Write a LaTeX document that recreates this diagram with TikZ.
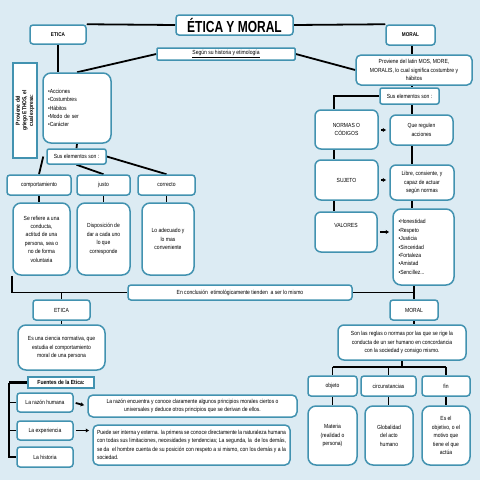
\documentclass[tikz,border=0pt]{standalone}
\usepackage{fontspec}
\usepackage{graphicx}
\setmainfont{Liberation Sans}[FakeStretch=0.85]
\newfontfamily\titlefont{Liberation Sans}[FakeStretch=0.75]
\usetikzlibrary{arrows.meta,calc}
\definecolor{bgc}{RGB}{220,235,243}
\definecolor{bc}{RGB}{66,146,176}
\newcommand\fs{\fontsize{5.9}{8.4}\selectfont}
\pgfdeclarelayer{back}
\pgfdeclarelayer{lines}
\pgfsetlayers{back,lines,main}
\begin{document}
\begin{tikzpicture}[x=1pt,y=-1pt,
  box/.style={draw=bc,fill=white,line width=1.5pt,rounded corners=3pt,inner sep=1pt,align=center,font=\fs},
  conn/.style={line width=1.8pt,black},
  arr/.style={conn,-{Latex[length=3.5pt,width=4.5pt]},shorten <=2pt,shorten >=3pt}]
\begin{pgfonlayer}{back}
\fill[bgc] (0,0) rectangle (480,480);
\end{pgfonlayer}
\useasboundingbox (0,0) rectangle (480,480);

% top
\node[box,minimum width=117,minimum height=20,font=\titlefont\bfseries\fontsize{16}{17}\selectfont] (title) at (234.5,25) {ÉTICA Y MORAL};
\node[box,minimum width=56,minimum height=19,font=\bfseries\fontsize{5.5}{6}\selectfont] (eticaT) at (58,34.5) {ETICA};
\node[box,minimum width=49,minimum height=20,font=\bfseries\fontsize{5.5}{6}\selectfont] (moralT) at (410.5,35) {MORAL};
\node[box,rounded corners=1pt,minimum width=138,minimum height=12] (segun) at (226,54) {\underline{Según su historia y etimología}};

% left: ETICA
\node[box,rounded corners=8pt,minimum width=68,minimum height=70,text width=58,align=left] (acciones) at (77,108) {•Acciones\\•Costumbres\\•Hábitos\\•Modo de ser\\•Carácter};
\node[box,rounded corners=0pt,rotate=90,minimum width=95,minimum height=24,font=\bfseries\fontsize{5.8}{6.6}\selectfont] (proviene) at (25,110.5) {Proviene del\\griego ETHOS, el\\cual expresa:};
\node[box,rounded corners=2pt,minimum width=59,minimum height=15] (susE) at (76.5,156.5) {Sus elementos son :};
\node[box,minimum width=64,minimum height=20] (comp) at (39,185) {comportamiento};
\node[box,minimum width=53,minimum height=20] (justo) at (103.5,185) {justo};
\node[box,minimum width=57,minimum height=20] (correcto) at (166.5,185) {correcto};
\node[box,rounded corners=8pt,minimum width=57,minimum height=72] (compD) at (41.5,239) {Se refiere a una\\conducta,\\actitud de una\\persona, sea o\\no de forma\\voluntaria};
\node[box,rounded corners=8pt,minimum width=53,minimum height=72] (justoD) at (103.5,239) {Disposición de\\dar a cada uno\\lo que\\corresponde};
\node[box,rounded corners=8pt,minimum width=52,minimum height=72] (corrD) at (168,239) {Lo adecuado y\\lo mas\\conveniente};

% conclusion
\node[box,minimum width=224,minimum height=15] (concl) at (240,292.5) {En conclusión\ \ etimológicamente tienden\ \ a ser lo mismo};
\node[box,minimum width=57,minimum height=20] (etica2) at (61.5,310) {ETICA};
\node[box,minimum width=48,minimum height=20] (moral2) at (414,310) {MORAL};
\node[box,rounded corners=8pt,minimum width=87,minimum height=45] (esuna) at (61.5,347.5) {Es una ciencia normativa, que\\estudia el comportamiento\\moral de una persona};

% fuentes
\node[box,rounded corners=0pt,minimum width=66,minimum height=11,font=\bfseries\fs] (fuentes) at (61,382.5) {Fuentes de la Etica:};
\node[box,minimum width=56,minimum height=19] (razon) at (45,402.5) {La razón humana};
\node[box,minimum width=56,minimum height=19] (exper) at (45,430.5) {La experiencia};
\node[box,minimum width=56,minimum height=20] (hist) at (45,457) {La historia};
\node[box,rounded corners=5pt,minimum width=209,minimum height=22] (razonD) at (192.5,406) {La razón encuentra y conoce claramente algunos principios morales ciertos o\\universales y deduce otros principios que se derivan de ellos.};
\node[box,rounded corners=5pt,minimum width=197,minimum height=40,text width=189,align=justify] (experD) at (191.5,445) {Puede ser interna y externa. la primera se conoce directamente la naturaleza humana con todas sus limitaciones, necesidades y tendencias; La segunda, la\ \ de los demás, se da\ \ el hombre cuenta de su posición con respeto a si mismo, con los demás y a la sociedad.};

% right: MORAL
\node[box,rounded corners=5pt,minimum width=116,minimum height=30] (moralE) at (414,70) {Proviene del latin MOS, MORE,\\MORALIS, lo cual significa costumbre y\\hábitos};
\node[box,rounded corners=2pt,minimum width=59,minimum height=16] (susR) at (409.5,96) {Sus elementos son :};
\node[box,rounded corners=6pt,minimum width=63,minimum height=39] (normas) at (346.5,129.5) {NORMAS O\\CÓDIGOS};
\node[box,rounded corners=6pt,minimum width=63,minimum height=30] (regulen) at (421.5,130) {Que regulen\\acciones};
\node[box,rounded corners=6pt,minimum width=63,minimum height=40] (sujeto) at (346.5,180) {SUJETO};
\node[box,rounded corners=6pt,minimum width=64,minimum height=35] (libre) at (422,182.5) {Libre, consiente, y\\capaz de actuar\\según normas};
\node[box,rounded corners=6pt,minimum width=62,minimum height=40] (valores) at (346,232) {VALORES\\[5pt]};
\node[box,rounded corners=8pt,minimum width=61,minimum height=76,text width=50,align=left] (valD) at (423.5,247) {•Honestidad\\•Respeto\\•Justicia\\•Sinceridad\\•Fortaleza\\•Amistad\\•Sencillez...};
\node[box,rounded corners=6pt,minimum width=128,minimum height=35] (sonlas) at (402,342.5) {Son las reglas o normas por las que se rige la\\conducta de un ser humano en concordancia\\con la sociedad y consigo mismo.};
\node[box,minimum width=49,minimum height=20] (objeto) at (332.5,386) {objeto};
\node[box,minimum width=55,minimum height=20] (circ) at (388.5,386) {circunstancias};
\node[box,minimum width=48,minimum height=20] (fin) at (446,386) {fin};
\node[box,rounded corners=8pt,minimum width=49,minimum height=59] (objD) at (332.5,435.5) {Materia\\(realidad o\\persona)};
\node[box,rounded corners=8pt,minimum width=48,minimum height=59] (circD) at (389,435.5) {Globalidad\\del acto\\humano};
\node[box,rounded corners=8pt,minimum width=48,minimum height=59] (finD) at (446,435.5) {Es el\\objetivo, o el\\motivo que\\tiene el que\\actúa};

\coordinate (rx) at (412,0);
\coordinate (lx) at (334,0);
\coordinate (fx) at (9,382.5);
\coordinate (bj) at ($(sonlas.south)+(0,6)$);

\begin{pgfonlayer}{lines}
\draw[conn] (title.west) -- (eticaT.north east);
\draw[conn] (title.east) -- (moralT.north west);
\draw[conn] (eticaT.south) -- (eticaT.south |- acciones.north);
\draw[conn] (segun.west) -- (acciones.north);
\draw[conn] (segun.east) -- (moralE.west);
\draw[conn] (acciones.south) -- (susE.north);
\draw[conn] ([xshift=-3pt]susE.west) -- (comp.north);
\draw[conn] (susE.south) -- (justo.north);
\draw[conn] (susE.east) -- (correcto.north);
\draw[conn] (comp.south) -- (comp.south |- compD.north);
\draw[conn] (justo.south) -- (justoD.north);
\draw[conn] (correcto.south) -- (correcto.south |- corrD.north);
\draw[conn] (compD.south west) |- (concl.west);
\draw[conn] (concl.east) -- (concl.east -| moral2.north);
\draw[conn] (moral2.north) -- (moral2.north |- valD.south);
\draw[conn] (etica2.north) -- (etica2.north |- concl.west);
\draw[conn] (etica2.south) -- (esuna.north);
\draw[line width=3.2pt] (fuentes.west) -- (fx);
\draw[conn] (fx) |- (hist.west);
\draw[conn] (razon.west) -- (razon.west -| fx);
\draw[conn] (exper.west) -- (exper.west -| fx);
\draw[arr] (razon.east) -- (razonD.west);
\draw[arr] (exper.east) -- (exper.east -| experD.west);
\draw[conn] (moralT.south -| rx) -- (moralE.north -| rx);
\draw[conn] (moralE.south -| rx) -- (susR.north -| rx);
\draw[conn] (susR.south -| rx) -- (regulen.north -| rx);
\draw[conn] (regulen.south -| rx) -- (libre.north -| rx);
\draw[conn] (libre.south -| rx) -- (valD.north -| rx);
\draw[conn] (susR.west) -| (normas.north -| lx);
\draw[conn] (normas.south -| lx) -- (sujeto.north -| lx);
\draw[conn] (sujeto.south -| lx) -- (valores.north -| lx);
\draw[arr] (normas.east |- regulen.west) -- (regulen.west);
\draw[arr] (sujeto.east) -- (sujeto.east -| libre.west);
\draw[arr] (valores.east) -- (valores.east -| valD.west);
\draw[conn] (moral2.south) -- (moral2.south |- sonlas.north);
\draw[conn] (sonlas.south) -- (bj);
\draw[conn] (objeto.north |- bj) -- (fin.north |- bj);
\draw[conn] (objeto.north |- bj) -- (objeto.north);
\draw[conn] (circ.north |- bj) -- (circ.north);
\draw[conn] (fin.north |- bj) -- (fin.north);
\draw[conn] (objeto.south) -- (objD.north);
\draw[conn] (circ.south) -- (circ.south |- circD.north);
\draw[conn] (fin.south) -- (finD.north);
\end{pgfonlayer}
\end{tikzpicture}
\end{document}
